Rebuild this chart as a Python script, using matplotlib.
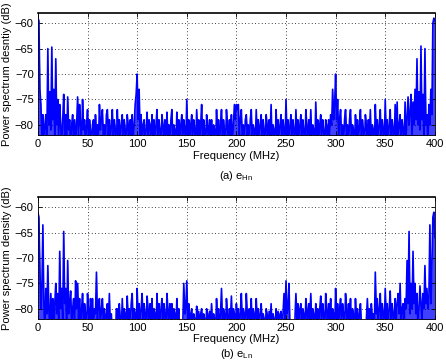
import numpy as np
import matplotlib
matplotlib.use("Agg")
import matplotlib.pyplot as plt

# frequency grid, 1 MHz steps
freq_mhz = list(range(0, 401))

# (a) e_Hn spectrum (dB)
psd_hn = [
    -59, -59.5, -73, -76, -82, -78, -84, -80, -78, -83, -65, -80, -73.5, -81, -64.7, -79, -73, -82, -67, -80,
    -75, -83, -76, -80, -85, -79, -74, -82, -78, -84, -74.5, -81, -79, -85, -80, -78, -83, -79, -84, -80,
    -74.5, -82, -76, -80, -84, -75, -81, -79, -85, -80, -77, -83, -79, -81, -85, -80, -79, -84, -78, -82,
    -80, -84, -76, -81, -79, -77, -83, -80, -85, -78, -77, -82, -79, -84, -80, -77, -83, -79, -81, -85,
    -77, -82, -79, -84, -80, -78, -83, -79, -81, -85, -78, -80, -84, -79, -82, -78, -84, -80, -76, -74,
    -70, -79, -73, -82, -78, -84, -80, -79, -85, -81, -77.5, -83, -79, -80, -84, -78, -82, -79, -85, -80,
    -77, -83, -79, -81, -84, -78, -80, -83, -79, -85, -77.5, -82, -80, -84, -79, -77, -83, -80, -81, -85,
    -77.5, -82, -79, -84, -80, -78, -83, -79, -81, -84, -75, -82, -79, -85, -80, -78, -83, -79, -81, -84,
    -77, -82, -79, -84, -80, -76, -83, -79, -81, -85, -78, -80, -84, -79, -82, -79, -84, -80, -81, -85,
    -77, -82, -79, -84, -80, -77, -83, -79, -81, -85, -77, -80, -84, -79, -82, -78, -84, -80, -76, -79,
    -76, -77, -76, -82, -79, -77, -83, -80, -84, -79, -78, -82, -80, -85, -79, -77, -83, -80, -81, -84,
    -77, -82, -79, -84, -80, -78, -83, -79, -81, -85, -78, -80, -84, -79, -82, -76, -84, -80, -81, -85,
    -77, -82, -79, -84, -80, -78, -83, -79, -81, -84, -75, -82, -79, -85, -80, -78, -83, -79, -81, -84,
    -77, -82, -79, -84, -80, -78, -83, -79, -81, -85, -77, -80, -84, -79, -82, -77, -84, -80, -81, -85,
    -75.5, -82, -79, -84, -80, -78, -83, -79, -81, -85, -79, -80, -84, -79, -82, -78, -80, -73, -79, -76,
    -70, -79, -75, -82, -79, -77, -83, -80, -84, -79, -77, -82, -80, -85, -79, -77, -83, -80, -81, -84,
    -78, -82, -79, -84, -80, -77, -83, -79, -81, -85, -78, -80, -84, -79, -82, -77, -84, -80, -81, -85,
    -76, -82, -79, -84, -80, -77, -83, -79, -81, -84, -75, -82, -79, -85, -80, -77, -83, -79, -81, -84,
    -76, -82, -75.5, -84, -80, -78, -83, -79, -81, -84, -75.5, -82, -79, -74.5, -80, -78, -74, -82, -75.5, -80,
    -73, -79, -67, -80, -73.5, -81, -64.5, -79, -74, -82, -65, -80, -78, -84, -76, -80, -73, -78, -60, -59,
    -59.5,
]

# (b) e_Ln spectrum (dB)
psd_ln = [
    -61, -62, -72, -80, -76, -63.5, -79, -84, -76, -81, -71.5, -80, -84, -77, -82, -78, -85, -79, -75, -81,
    -77, -83, -68.7, -80, -76, -82, -64.8, -79, -76, -84, -70.5, -81, -79, -76.5, -83, -80, -78, -84, -74.5, -80,
    -75, -82, -78, -84, -80, -77, -83, -79, -81, -85, -77, -80, -84, -78, -82, -78, -84, -80, -81, -72.8,
    -82, -79, -78, -84, -80, -78, -83, -80, -85, -81, -79, -83, -77, -84, -81, -85, -86, -83, -87, -80,
    -80, -84, -79, -82, -85, -78, -83, -80, -81, -85, -77.5, -82, -80, -84, -79, -77, -83, -80, -81, -85,
    -76, -82, -79, -84, -80, -77, -83, -79, -81, -85, -77.5, -80, -84, -79, -82, -78, -84, -80, -81, -85,
    -77, -82, -79, -84, -80, -78, -83, -79, -81, -85, -77, -80, -84, -79, -82, -79, -84, -80, -81, -85,
    -78, -82, -80, -86, -84, -87, -83, -75, -81, -80, -74.5, -82, -79, -84, -81, -80, -84, -81, -82, -85,
    -79.5, -83, -80.5, -84, -81, -80, -83, -81, -82, -85, -80, -81, -84, -80.5, -83, -79, -84, -81, -82, -85,
    -78, -82, -80, -84, -81, -76, -83, -80, -81, -85, -78, -81, -84, -80, -82, -77.5, -84, -80, -81, -85,
    -79, -82, -80, -84, -81, -77, -83, -80, -81, -85, -77, -81, -84, -80, -82, -78, -84, -80, -81, -85,
    -78, -82, -80, -84, -81, -79, -83, -81, -82, -85, -80, -81, -84, -80.5, -83, -79, -84, -81, -82, -85,
    -80, -83, -80.5, -84, -81, -80.5, -83, -81, -77, -82, -74.5, -81, -80, -75, -84, -86, -87, -85, -86, -82,
    -77, -82, -79, -84, -80, -79, -83, -80, -81, -85, -78, -80, -84, -79, -82, -77, -84, -80, -81, -85,
    -79, -82, -80, -84, -80, -77.5, -83, -79, -81, -85, -77, -80, -84, -79, -82, -78, -84, -80, -81, -85,
    -76, -82, -79, -84, -80, -78, -83, -79, -81, -85, -77, -80, -84, -79, -82, -78, -84, -80, -81, -85,
    -78, -82, -80, -84, -81, -79, -83, -86, -85, -87, -84, -82, -78, -83, -80, -84, -79, -82, -81, -84,
    -72.8, -81, -78, -84, -80, -77, -83, -79, -81, -84, -76, -82, -79, -84, -80, -76.5, -83, -79, -81, -84,
    -78, -82, -79, -77, -81, -75, -83, -80, -79, -84, -78, -80, -70.5, -79, -64.8, -81, -75, -80, -68.7, -79,
    -75, -81, -77, -84, -80, -75.5, -79, -82, -77, -80, -71.5, -79, -76, -80, -78, -63.5, -79, -72, -62, -61,
    -66,
]

xticks = [0, 50, 100, 150, 200, 250, 300, 350, 400]
yticks = [-80, -75, -70, -65, -60]

plt.rcParams["font.family"] = ["Liberation Sans", "DejaVu Sans"]
plt.rcParams["font.size"] = 8
# keep every zigzag of the dense spectrum
plt.rcParams["path.simplify"] = False

fig = plt.figure(figsize=(4.46, 3.62), dpi=100)
ax1 = fig.add_axes([0.085, 0.627, 0.890, 0.337])
ax2 = fig.add_axes([0.085, 0.119, 0.890, 0.337])

panels = [
    (ax1, psd_hn, "Power spectrum desntiy (dB)"),
    (ax2, psd_ln, "Power spectrum density (dB)"),
]
for ax, psd, ylab in panels:
    # the original trace is so dense that it reads as a filled band
    ax.fill_between(freq_mhz, psd, -90, color="#0000ff", alpha=0.75, lw=0)
    ax.plot(freq_mhz, psd, color="#0000ff", lw=1.2)
    ax.set_xlim(0, 400)
    ax.set_ylim(-82, -58)
    ax.set_xticks(xticks)
    ax.set_yticks(yticks)
    ax.grid(True, color="black", linestyle=(0, (1, 3)), linewidth=0.6)
    ax.tick_params(direction="in", top=True, right=True, length=3, width=0.6, pad=3)
    for s in ax.spines.values():
        s.set_linewidth(0.6)
    ax.spines["top"].set_linewidth(1.2)
    ax.set_xlabel("Frequency (MHz)", labelpad=1)
    ax.set_ylabel(ylab, labelpad=2)

fig.text(0.53, 0.515, "(a) e$_{\\mathregular{Hn}}$", ha="center", va="center")
fig.text(0.53, 0.042, "(b) e$_{\\mathregular{Ln}}$", ha="center", va="top")

fig.savefig("out.png", dpi=100)
